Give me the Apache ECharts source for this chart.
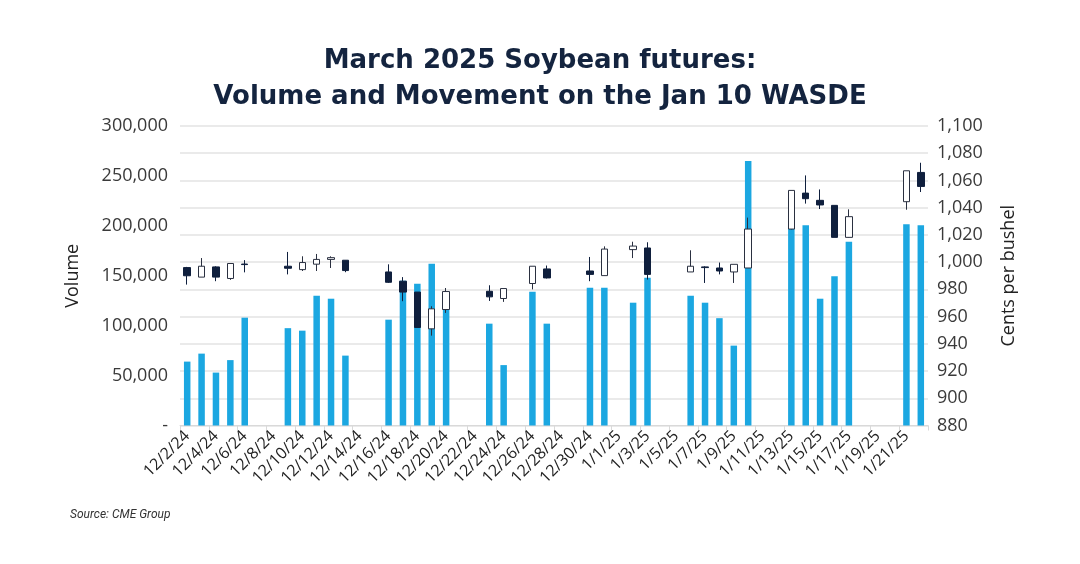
<!DOCTYPE html>
<html>
<head>
<meta charset="utf-8">
<script src="https://cdn.jsdelivr.net/npm/echarts@6/dist/echarts.min.js"></script>
<style>
html,body{margin:0;padding:0;background:#fff;}
#chart{width:1080px;height:564px;}
</style>
</head>
<body>
<div id="chart"></div>
<script>
const categories = [
 '12/2/24','12/3/24','12/4/24','12/5/24','12/6/24','12/7/24','12/8/24','12/9/24','12/10/24','12/11/24',
 '12/12/24','12/13/24','12/14/24','12/15/24','12/16/24','12/17/24','12/18/24','12/19/24','12/20/24','12/21/24',
 '12/22/24','12/23/24','12/24/24','12/25/24','12/26/24','12/27/24','12/28/24','12/29/24','12/30/24','12/31/24',
 '1/1/25','1/2/25','1/3/25','1/4/25','1/5/25','1/6/25','1/7/25','1/8/25','1/9/25','1/10/25',
 '1/11/25','1/12/25','1/13/25','1/14/25','1/15/25','1/16/25','1/17/25','1/18/25','1/19/25','1/20/25',
 '1/21/25','1/22/25'
];
const volume = [
 64000,72000,53000,65500,108000,null,null,97500,95000,130000,
 127000,70000,null,null,106000,145000,142000,162000,119000,null,
 null,102000,60500,null,134000,102000,null,null,138000,138000,
 null,123000,148000,null,null,130000,123000,107500,80000,265000,
 null,null,205000,200500,127000,149500,184000,null,null,null,
 201500,200500
];
const open = [
 996,989,996.5,988,998.6,null,null,997,994.5,998.5,
 1002,1001.4,null,null,992.8,986,978,951,965.2,null,
 null,978.6,973.3,null,984.3,995,null,null,993.5,990.1,
 null,1009.2,1010.4,null,null,992.8,996.5,995.7,992.8,995.7,
 null,null,1024.3,1050.7,1045.4,1041.7,1018.2,null,null,null,
 1044.4,1065.9
];
const close = [
 990,997,989,999,998.2,null,null,995.5,999.7,1002,
 1003.3,993.8,null,null,985.2,978,952,965.7,978.4,null,
 null,974.5,980.6,null,997,988.4,null,null,991,1009.6,
 null,1011.8,991,null,null,997,996,993.5,998.4,1024.3,
 null,null,1052.7,1046.6,1042,1018.2,1033.4,null,null,null,
 1067.1,1055.6
];
const low = [
 983.5,989,986,987,992.5,null,null,991,993.5,993.5,
 995.7,992.6,null,null,984.7,971.3,952,946,962.7,null,
 null,971.5,970.8,null,980,988,null,null,986,990,
 null,1003,987.2,null,null,992.8,984.7,991,984.7,995.7,
 null,null,1024,1043,1039,1018.2,1018,null,null,null,
 1038.5,1051.5
];
const high = [
 996.5,1003,997,999,1001.5,null,null,1007.5,1004.3,1006,
 1004.3,1001.5,null,null,998.4,989,978,967.6,981,null,
 null,983,980.6,null,997,997.5,null,null,1003.8,1011.6,
 null,1015,1014.6,null,null,1008.7,997,999.7,998.4,1032.7,
 null,null,1052.7,1063.7,1053.4,1041.7,1038.8,null,null,null,
 1067.1,1073
];

const candleData = categories.map((c, i) =>
  open[i] == null ? ['-','-','-','-'] : [open[i], close[i], low[i], high[i]]
);
const barData = volume.map(v => v == null ? '-' : v);

const fmt = v => Number(v).toLocaleString('en-US');
const labelColor = '#3a3a3a';

const chart = echarts.init(document.getElementById('chart'), null, {renderer:'canvas'});
chart.setOption({
  animation: false,
  backgroundColor: '#ffffff',
  title: {
    text: 'March 2025 Soybean futures:\nVolume and Movement on the Jan 10 WASDE',
    left: 'center',
    top: 38,
    textStyle: {
      fontFamily: 'DejaVu Sans',
      fontWeight: 'bold',
      fontSize: 26,
      lineHeight: 36,
      color: '#14243f'
    }
  },
  graphic: [{
    type: 'text',
    left: 70,
    top: 509,
    style: {
      text: 'Source: CME Group',
      fontFamily: 'Roboto',
      fontStyle: 'italic',
      fontSize: 12,
      fill: '#333'
    }
  }],
  grid: { left: 180, right: 152, top: 126, bottom: 138.5 },
  xAxis: {
    type: 'category',
    data: categories,
    boundaryGap: true,
    axisLine: { lineStyle: { color: '#d9d9d9', width: 1 } },
    axisTick: { show: true, interval: 1, length: 5, lineStyle: { color: '#d9d9d9' } },
    axisLabel: {
      interval: 1,
      rotate: 45,
      fontFamily: 'Open Sans',
      fontSize: 16,
      color: '#222',
      margin: 8
    }
  },
  yAxis: [
    {
      type: 'value',
      min: 0, max: 300000, interval: 50000,
      name: 'Volume',
      nameLocation: 'middle',
      nameRotate: 90,
      nameGap: 98,
      nameTextStyle: { fontFamily: 'Open Sans', fontSize: 18, color: '#222' },
      splitLine: { show: false },
      axisLine: { show: false },
      axisTick: { show: false },
      axisLabel: {
        formatter: v => v === 0 ? '-' : fmt(v),
        fontFamily: 'Open Sans', fontSize: 18, color: labelColor, margin: 12
      }
    },
    {
      type: 'value',
      min: 880, max: 1100, interval: 20,
      name: 'Cents per bushel',
      nameLocation: 'middle',
      nameRotate: 90,
      nameGap: 72,
      nameTextStyle: { fontFamily: 'Open Sans', fontSize: 18, color: '#222' },
      splitLine: { show: true, lineStyle: { color: '#e3e3e3', width: 1.5 } },
      axisLine: { show: false },
      axisTick: { show: false },
      axisLabel: {
        formatter: v => fmt(v),
        fontFamily: 'Open Sans', fontSize: 18, color: labelColor, margin: 9
      }
    }
  ],
  series: [
    {
      name: 'Volume',
      type: 'bar',
      yAxisIndex: 0,
      data: barData,
      barWidth: 6.5,
      itemStyle: { color: '#1ba7e1' },
      z: 2
    },
    {
      name: 'Price',
      type: 'candlestick',
      yAxisIndex: 1,
      data: candleData,
      barWidth: 7,
      itemStyle: {
        color: '#ffffff',
        borderColor: '#2a3040',
        color0: '#0f1f3d',
        borderColor0: '#0f1f3d',
        borderWidth: 1
      },
      z: 3
    }
  ]
});
</script>
</body>
</html>
